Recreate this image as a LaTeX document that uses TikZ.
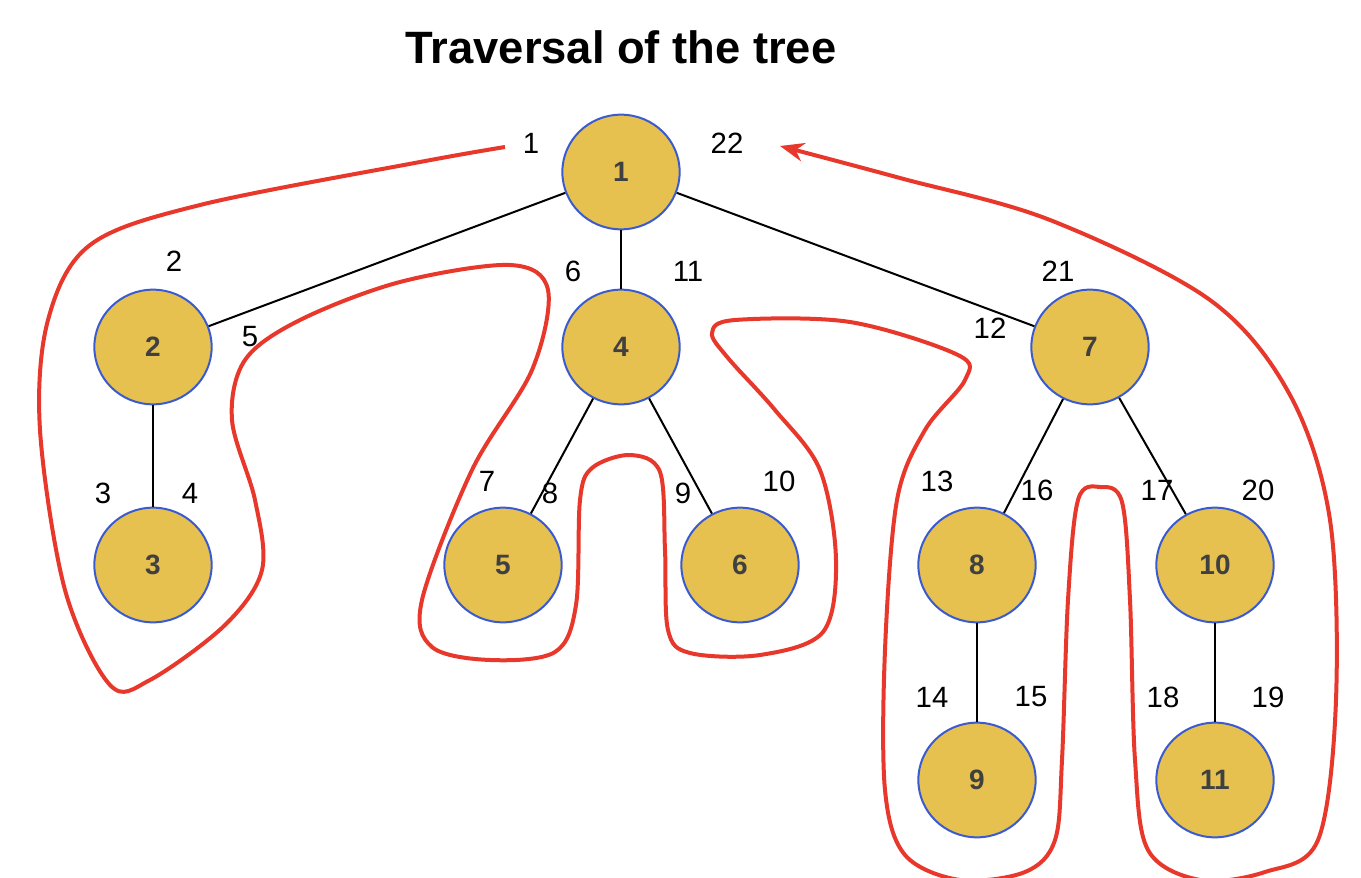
\documentclass[tikz,border=0pt]{standalone}
\usepackage{fontspec}
\setmainfont{Liberation Sans}
\usetikzlibrary{arrows.meta,shapes.geometric}
\definecolor{nfill}{HTML}{E6C150}
\definecolor{nedge}{HTML}{3A5BCF}
\definecolor{tred}{HTML}{E8382B}
\begin{document}
\begin{tikzpicture}[x=0.75pt,y=-0.75pt,
  tn/.style={ellipse,draw=nedge,fill=nfill,line width=1.5pt,minimum width=88pt,minimum height=86pt,inner sep=0pt,font=\fontsize{21}{21}\selectfont\bfseries,text=black!75},
  lb/.style={font=\fontsize{22}{22}\selectfont},
  ed/.style={line width=1.5pt}]
\useasboundingbox (0,0) rectangle (1361,878);
\node[font=\fontsize{34}{34}\selectfont\bfseries] (t) at (621,47) {Traversal of the tree};
\node[tn] (n1) at (621,172) {1};
\node[tn] (n2) at (153,347) {2};
\node[tn] (n3) at (153,565) {3};
\node[tn] (n4) at (621,347) {4};
\node[tn] (n5) at (503,565) {5};
\node[tn] (n6) at (740,565) {6};
\node[tn] (n7) at (1090,347) {7};
\node[tn] (n8) at (977,565) {8};
\node[tn] (n9) at (977,780) {9};
\node[tn] (n10) at (1215,565) {10};
\node[tn] (n11) at (1215,780) {11};
\draw[ed] (n1)--(n2); \draw[ed] (n1)--(n4); \draw[ed] (n1)--(n7);
\draw[ed] (n2)--(n3); \draw[ed] (n4)--(n5); \draw[ed] (n4)--(n6);
\draw[ed] (n7)--(n8); \draw[ed] (n7)--(n10); \draw[ed] (n8)--(n9); \draw[ed] (n10)--(n11);
\foreach \t/\x/\y [count=\i] in {1/531/143,22/727/143,2/174/261,5/250/337,6/573/271,11/688/271,3/103/493,4/190/493,7/487/481,8/550/493,9/683/493,10/779/481,21/1058/271,12/990/328,13/937/481,16/1037/490,17/1157/490,20/1258/490,14/932/697,15/1031/697,18/1163/697,19/1268/697}
  \node[lb] (l\i) at (\x,\y) {\t};
\draw[tred,line width=3pt,-{Stealth[length=18pt,width=14pt]}] plot[smooth,tension=0.55] coordinates {
(505,147) (420,162) (200,205) (90,245) (48,320) (40,430) (65,590) (110,685) (150,680) (225,625) (262,570) (255,500) (232,420) (245,360) (300,320) (400,282) (510,265) (548,290) (532,370) (472,470) (422,600) (432,647) (490,660) (555,652) (576,605) (580,500) (592,468) (630,455) (660,472) (665,550) (668,630) (690,653) (760,655) (823,632) (836,560) (820,470) (775,410) (728,358) (712,333) (735,320) (850,322) (958,355) (965,380) (925,430) (897,500) (885,650) (885,790) (905,855) (960,880) (1025,872) (1055,840) (1062,760) (1068,600) (1078,500) (1100,487) (1122,502) (1130,600) (1135,760) (1148,850) (1200,880) (1265,872) (1318,840) (1336,700) (1330,520) (1290,395) (1210,300) (1050,220) (900,178) (780,146)};
\end{tikzpicture}
\end{document}
